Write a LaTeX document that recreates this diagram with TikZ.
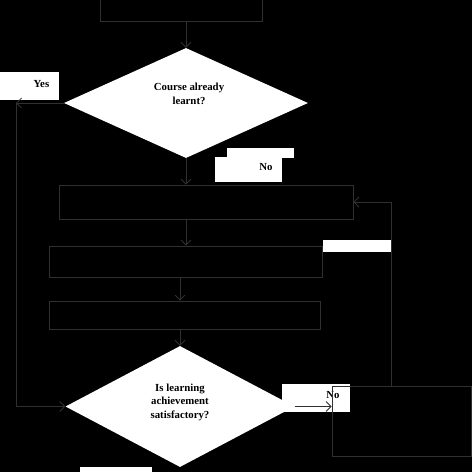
\documentclass[tikz,border=0pt]{standalone}
\usepackage{fontspec}
\setmainfont{Liberation Serif}
\usetikzlibrary{positioning,shapes.geometric,arrows.meta}
\definecolor{linegray}{RGB}{48,48,48}

\begin{document}
\begin{tikzpicture}[x=1pt,y=-1pt,
    >={Straight Barb[length=5pt,width=10pt]},
    proc/.style={draw=linegray,line width=0.8pt,rectangle,inner sep=0pt},
    decision/.style={diamond,fill=white,inner sep=0pt},
    tag/.style={fill=white,inner sep=0pt,anchor=north west},
    qtext/.style={align=center,inner sep=0pt,font=\fontsize{10.8}{13.5}\selectfont\bfseries},
    flow/.style={draw=linegray,line width=0.8pt,->}]
    \fill[black] (0,0) rectangle (472,472);
    \useasboundingbox (0,0) rectangle (472,472);

    % labels behind the boxes
    \node[tag,minimum width=59pt,minimum height=28pt] (yestag) at (0,72) {};
    \node[qtext,anchor=east] at ([xshift=-10pt,yshift=2pt]yestag.east) {Yes};
    \node[tag,minimum width=67pt,minimum height=10pt] (notagtop) at (227,148) {};
    \node[tag,minimum width=67pt,minimum height=25pt] (notag) at (215,157) {};
    \node[qtext] at (266,167) {No};
    \node[tag,minimum width=68pt,minimum height=12pt] (blanktag) at (323,240) {};
    \node[tag,minimum width=68pt,minimum height=28pt] (notagb) at (282,384) {};
    \node[qtext] at (333,395) {No};
    \node[tag,minimum width=72pt,minimum height=12pt] (endtag) at (80,467) {};

    % steps
    \node[proc,minimum width=162pt,minimum height=50pt] (start) at (181,-4) {};
    \node[decision,minimum width=244pt,minimum height=110pt] (learnt) at (186,103) {};
    \node[qtext] at ([xshift=3pt,yshift=9pt]learnt.center) {Course already\\learnt?};
    \node[proc,minimum width=294pt,minimum height=34pt] (study) at (206,202) {};
    \node[proc,minimum width=273pt,minimum height=31pt] (test) at (185.5,261.5) {};
    \node[proc,minimum width=271pt,minimum height=28pt] (score) at (184.5,315) {};
    \node[decision,minimum width=229pt,minimum height=121pt] (pass) at (180,406.5) {};
    \node[qtext] at ([yshift=4.5pt]pass.center) {Is learning\\achievement\\satisfactory?};
    \node[proc,minimum width=139pt,minimum height=70pt] (review) at (401.5,421) {};

    \coordinate (yesturn) at (16,103);
    \coordinate (loopturn) at (391,202);

    \draw[flow] (start.south -| learnt.north) -- (learnt.north);
    \draw[flow] (learnt.west) -- (yesturn);
    \draw[flow] (yesturn) |- (pass.west);
    \draw[flow] (learnt.south) -- (learnt.south |- study.north);
    \draw[flow] (learnt.south |- study.south) -- (learnt.south |- test.north);
    \draw[flow] (pass.north |- test.south) -- (pass.north |- score.north);
    \draw[flow] (score.south -| pass.north) -- (pass.north);
    \draw[flow] (pass.east) -- (pass.east -| review.west);
    \draw[flow] (review.north -| loopturn) -- (loopturn) -- (study.east);
\end{tikzpicture}
\end{document}
